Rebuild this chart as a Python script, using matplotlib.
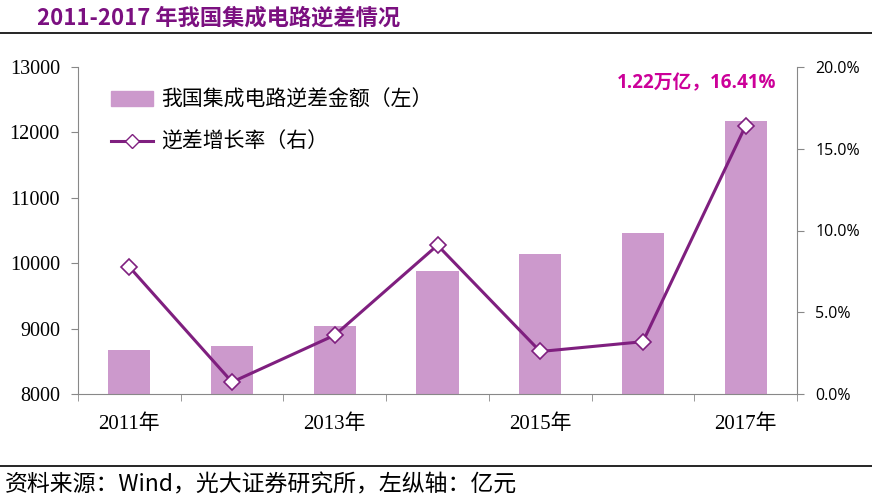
import numpy as np
import matplotlib.pyplot as plt
from matplotlib.lines import Line2D
from matplotlib.patches import Patch

years = ['2011年', '2012年', '2013年', '2014年', '2015年', '2016年', '2017年']
deficit = [8673, 8734, 9040, 9881, 10141, 10462, 12174]
growth = [7.77, 0.73, 3.6, 9.1, 2.6, 3.2, 16.41]

bar_color = '#CC99CC'
line_color = '#7F1F7F'
cjk = ['Noto Sans CJK SC', 'DejaVu Sans']
serif = ['Liberation Serif', 'Noto Sans CJK SC']

plt.rcParams['font.family'] = cjk

fig = plt.figure(figsize=(8.72, 5.0), dpi=100)
ax = fig.add_axes([78 / 872, 106 / 500, 719 / 872, 327 / 500])
ax2 = ax.twinx()

x = np.arange(len(years))
ax.bar(x, deficit, width=0.41, color=bar_color, zorder=2)
ax.set_ylim(8000, 13000)
ax.set_yticks(np.arange(8000, 13001, 1000))
ax.set_yticklabels([str(v) for v in range(8000, 13001, 1000)], family=serif, fontsize=14.5)
ax.set_xlim(-0.5, len(years) - 0.5)
ax.set_xticks(x)
ax.set_xticklabels([y if i % 2 == 0 else '' for i, y in enumerate(years)], family=serif, fontsize=15)
ax.tick_params(axis='x', length=0, pad=15)
ax.set_xticks(np.arange(-0.5, len(years), 1), minor=True)
ax.tick_params(axis='x', which='minor', length=5, color='#888888')
ax.tick_params(axis='y', length=5, color='#888888', pad=8)

ax2.plot(x, growth, color=line_color, lw=2.2, marker='D', markersize=8,
         markerfacecolor='white', markeredgecolor=line_color, markeredgewidth=1.2, zorder=3)
ax2.set_ylim(0, 20)
ax2.set_yticks(np.arange(0, 20.1, 5))
ax2.set_yticklabels(['%.1f%%' % v for v in np.arange(0, 20.1, 5)], fontsize=11.5, family=['Open Sans'])
ax2.tick_params(axis='y', length=5, color='#888888', pad=8)

for a in (ax, ax2):
    a.spines['top'].set_visible(False)
    for s in ('left', 'right', 'bottom'):
        a.spines[s].set_color('#888888')
ax.spines['right'].set_visible(False)
ax2.spines['left'].set_visible(False)
ax2.spines['bottom'].set_visible(False)

handles = [Patch(color=bar_color),
           Line2D([0], [0], color=line_color, lw=2.2, marker='D', markersize=7,
                  markerfacecolor='white', markeredgecolor=line_color)]
ax.legend(handles, ['我国集成电路逆差金额（左）', '逆差增长率（右）'], loc='upper left',
          bbox_to_anchor=(0.02, 0.99), frameon=False, fontsize=15,
          handlelength=2.0, labelspacing=0.95, handletextpad=0.4)

ax2.text(5.52, 19.0, '1.22万亿，16.41%', color='#CC0099', fontsize=13.5, fontweight='bold',
         ha='center', va='center', transform=ax2.transData,
         family=['Open Sans', 'Noto Sans CJK SC'])

fig.text(37 / 872, 1 - 18 / 500, '2011-2017 年我国集成电路逆差情况', color='#7B1080',
         fontsize=16, fontweight='bold', va='center', ha='left')
fig.add_artist(Line2D([0, 1], [1 - 33 / 500, 1 - 33 / 500], color='black', lw=1.2))
fig.add_artist(Line2D([0, 1], [1 - 466 / 500, 1 - 466 / 500], color='black', lw=1.2))
fig.text(5 / 872, 1 - 485 / 500, '资料来源：Wind，光大证券研究所，左纵轴：亿元',
         fontsize=16.5, va='center', ha='left')

fig.savefig('out.png', dpi=100)
